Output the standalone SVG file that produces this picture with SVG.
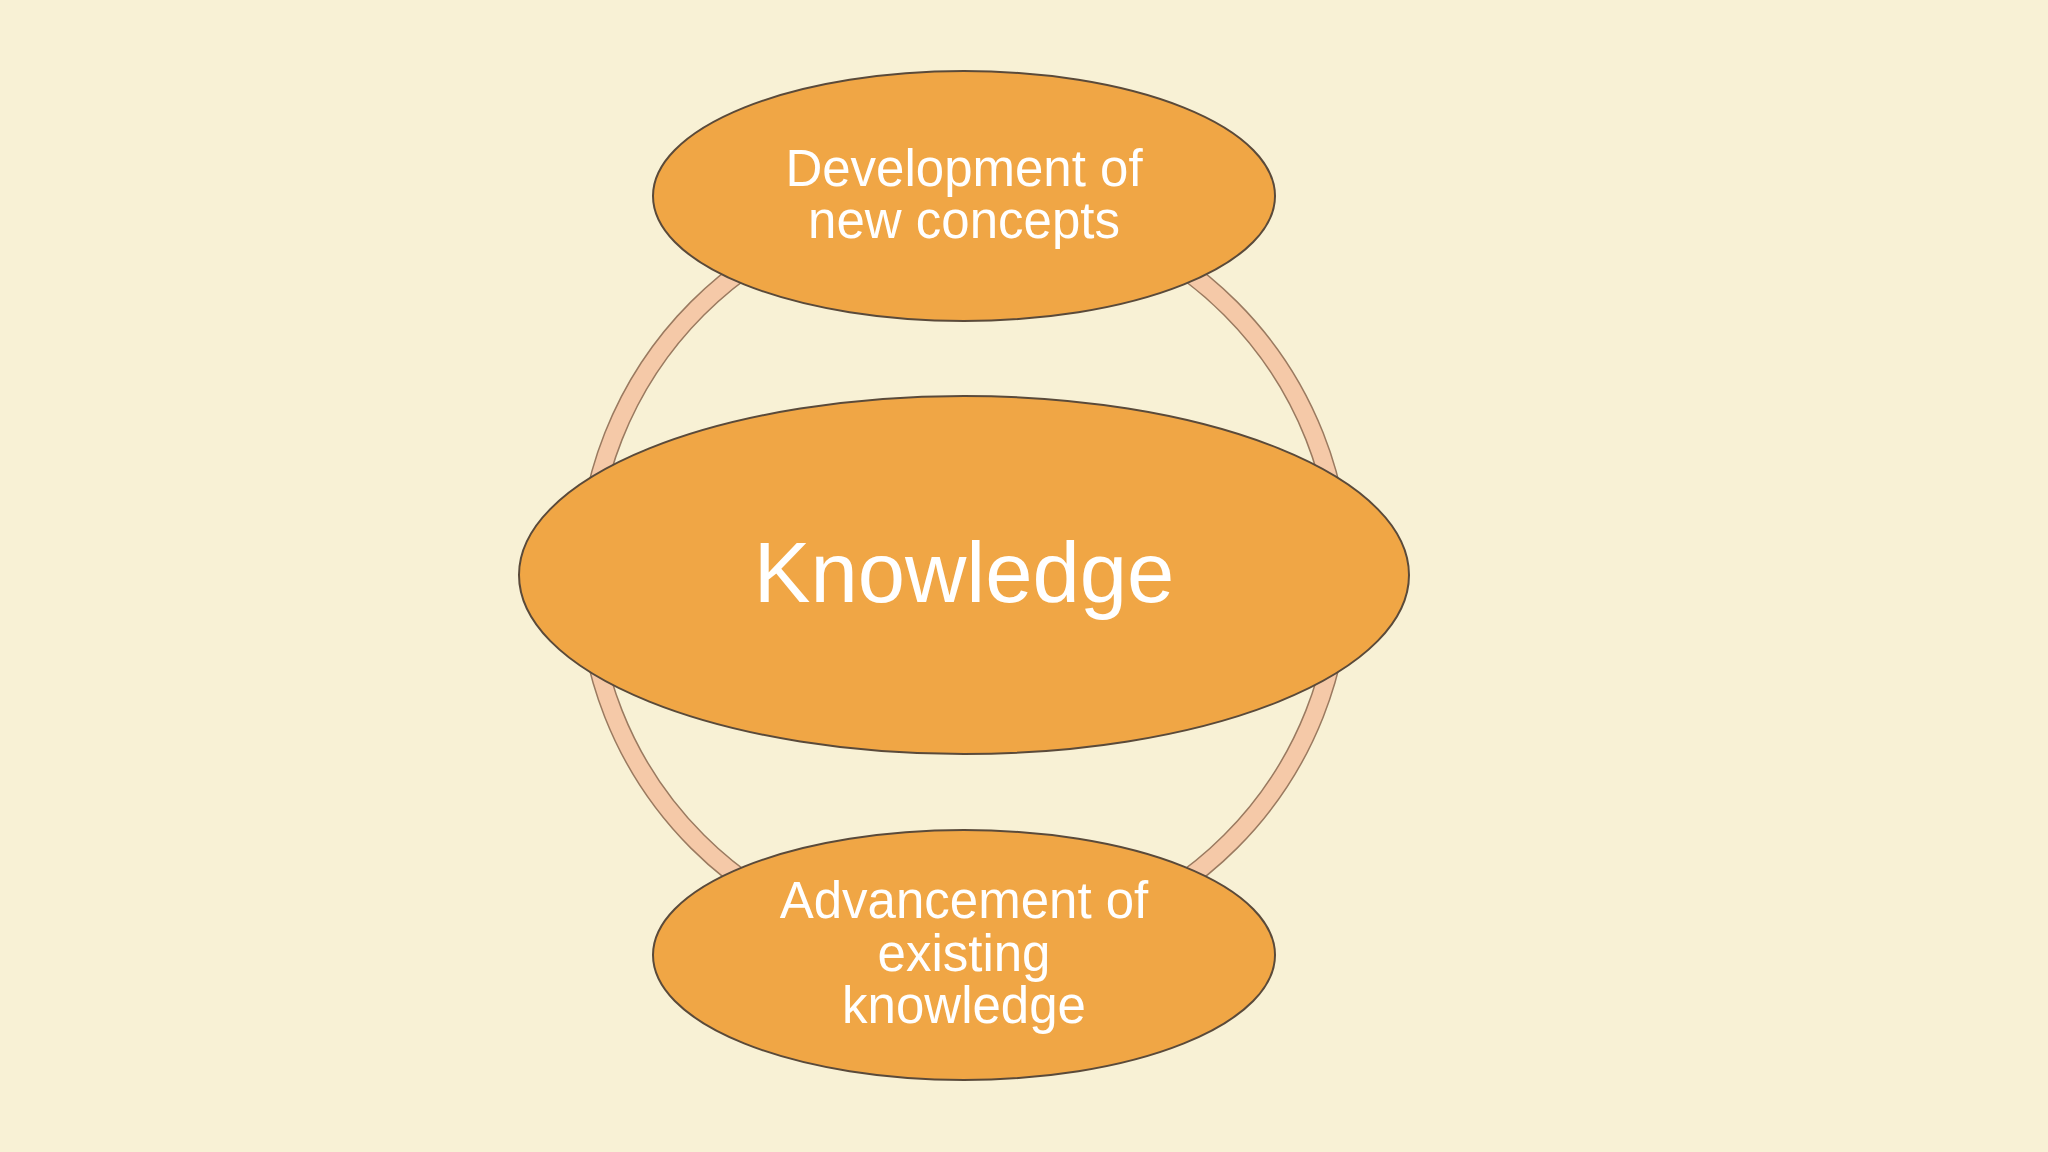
<svg xmlns="http://www.w3.org/2000/svg" width="2048" height="1152" viewBox="0 0 2048 1152">
<defs>
<style>
.n{fill:#f0a645;stroke:#5a4a3a;stroke-width:2}
.t{font-family:"Liberation Sans",Arial,sans-serif;fill:#ffffff;text-anchor:middle}
</style>
</defs>
<rect width="2048" height="1152" fill="#f8f1d5"/>
<g id="connectors">
<circle cx="964" cy="575" r="377" fill="none" stroke="#9a7a60" stroke-width="20"/>
<circle cx="964" cy="575" r="377" fill="none" stroke="#f5c9a8" stroke-width="17"/>
</g>
<g id="top"><ellipse class="n" cx="964" cy="196" rx="311" ry="125"/>
<text class="t" font-size="51" x="964" y="186">Development of</text>
<text class="t" font-size="51" x="964" y="238">new concepts</text></g>
<g id="center"><ellipse class="n" cx="964" cy="575" rx="445" ry="179"/>
<text class="t" font-size="85" x="964" y="602">Knowledge</text></g>
<g id="bottom"><ellipse class="n" cx="964" cy="955" rx="311" ry="125"/>
<text class="t" font-size="51" x="964" y="918">Advancement of</text>
<text class="t" font-size="51" x="964" y="971">existing</text>
<text class="t" font-size="51" x="964" y="1023">knowledge</text></g>
</svg>
